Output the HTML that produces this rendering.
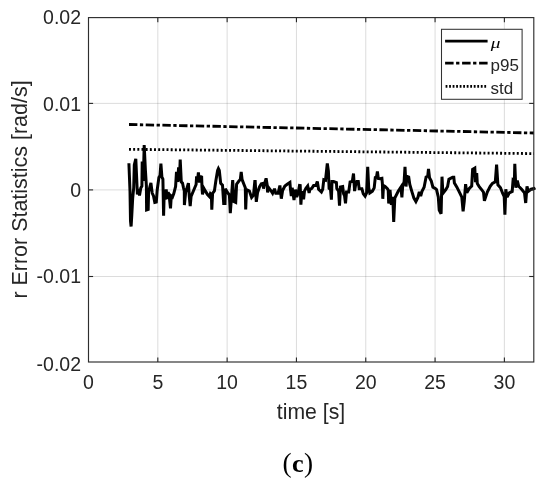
<!DOCTYPE html>
<html><head><meta charset="utf-8"><title>r Error Statistics</title>
<style>
html,body{margin:0;padding:0;background:#fff;}
body{width:550px;height:485px;overflow:hidden;}
svg{display:block;}
text{font-family:"Liberation Sans",Arial,sans-serif;fill:#262626;}
.tick{font-size:19.5px;}
.lab{font-size:21.2px;}
.leg{font-size:17px;}
.ser{font-family:"Liberation Serif","Times New Roman",serif;fill:#000;}
</style></head><body>
<svg width="550" height="485" viewBox="0 0 550 485">
<rect x="0" y="0" width="550" height="485" fill="#ffffff"/>

<line x1="157.81" y1="17.6" x2="157.81" y2="362.0" stroke="#262626" stroke-opacity="0.16" stroke-width="1"/>
<line x1="227.13" y1="17.6" x2="227.13" y2="362.0" stroke="#262626" stroke-opacity="0.16" stroke-width="1"/>
<line x1="296.44" y1="17.6" x2="296.44" y2="362.0" stroke="#262626" stroke-opacity="0.16" stroke-width="1"/>
<line x1="365.76" y1="17.6" x2="365.76" y2="362.0" stroke="#262626" stroke-opacity="0.16" stroke-width="1"/>
<line x1="435.07" y1="17.6" x2="435.07" y2="362.0" stroke="#262626" stroke-opacity="0.16" stroke-width="1"/>
<line x1="504.39" y1="17.6" x2="504.39" y2="362.0" stroke="#262626" stroke-opacity="0.16" stroke-width="1"/>
<line x1="88.5" y1="103.40" x2="533.8" y2="103.40" stroke="#262626" stroke-opacity="0.16" stroke-width="1"/>
<line x1="88.5" y1="189.90" x2="533.8" y2="189.90" stroke="#262626" stroke-opacity="0.16" stroke-width="1"/>
<line x1="88.5" y1="276.50" x2="533.8" y2="276.50" stroke="#262626" stroke-opacity="0.16" stroke-width="1"/>
<line x1="129" y1="124.5" x2="533.9" y2="133" stroke="#000" stroke-width="2.8" stroke-dasharray="8.4 2.5 3.3 2.5"/>
<line x1="129" y1="149.3" x2="533.9" y2="153.6" stroke="#000" stroke-width="2.8" stroke-dasharray="1.95 2.22"/>
<polyline points="128.9,163.3 130.0,191.0 130.5,221.0 131.1,226.5 131.8,215.0 132.7,198.0 133.7,188.0 134.3,165.0 135.8,158.9 137.4,194.5 138.5,189.0 139.5,195.5 140.8,188.0 141.9,186.0 142.2,161.4 143.3,181.0 144.2,145.0 145.4,170.0 146.4,186.0 146.6,210.0 148.2,209.5 148.6,192.0 150.9,182.9 152.2,193.0 153.5,196.0 154.8,202.4 156.3,202.0 157.2,190.0 158.9,177.5 160.0,175.5 160.9,163.6 161.9,177.0 162.9,179.0 163.6,215.8 164.3,190.0 165.2,199.5 166.2,189.5 167.2,199.0 168.2,192.0 169.3,197.0 170.5,208.3 171.3,196.0 172.5,197.0 173.8,193.6 175.6,186.4 176.5,171.8 177.6,182.0 178.6,167.3 179.4,181.5 180.2,159.5 181.3,182.0 182.5,183.0 183.4,187.3 184.3,190.9 184.4,205.1 185.6,192.7 188.4,183.2 189.3,196.4 190.2,206.0 191.1,196.4 193.8,190.0 196.1,184.5 196.6,176.4 197.4,182.0 198.4,172.3 199.4,182.5 200.3,175.5 201.0,182.0 201.6,175.9 202.0,187.3 202.5,194.5 203.8,188.2 205.6,191.4 207.5,194.5 209.3,196.4 210.3,193.7 211.4,195.1 211.8,209.6 212.6,193.3 214.4,191.0 215.9,180.5 217.6,170.5 218.4,168.6 219.3,170.5 220.7,183.3 222.5,185.1 223.7,203.5 225.0,203.5 225.3,188.7 227.5,192.4 229.4,195.1 230.3,213.2 232.7,180.1 233.9,201.5 235.7,202.4 236.6,184.2 238.9,181.0 240.3,179.6 241.2,171.9 242.1,179.6 243.9,184.2 245.3,187.8 245.7,209.5 246.5,189.6 249.4,191.0 251.6,197.4 253.5,195.1 254.8,181.5 255.2,181.5 256.3,201.9 257.6,192.4 259.5,186.9 261.3,183.7 263.1,183.3 263.5,188.7 264.5,184.2 266.1,178.3 267.2,185.1 267.6,192.4 268.5,187.4 270.8,190.5 272.6,193.3 274.5,188.7 275.8,193.3 278.1,193.3 279.9,185.5 281.3,198.7 282.6,190.5 284.9,186.0 287.2,184.2 289.9,182.4 290.4,188.7 291.3,196.0 292.2,187.8 294.0,200.1 295.4,189.6 296.7,196.9 298.1,193.3 299.5,185.5 300.2,185.6 300.9,204.7 301.8,191.1 303.6,199.3 304.5,191.1 305.9,188.4 307.7,186.1 309.1,192.9 310.0,189.3 311.8,188.4 313.6,185.6 315.9,185.6 317.3,181.5 318.6,189.3 321.4,192.0 322.7,189.3 323.8,179.7 325.5,180.2 326.4,172.0 327.3,163.4 328.4,171.1 329.1,188.4 330.5,189.3 331.4,199.7 332.0,181.5 333.6,181.5 336.4,182.5 336.8,188.4 338.6,191.1 339.5,205.6 340.5,187.0 342.7,186.5 343.6,193.8 344.5,195.6 345.5,203.4 346.5,192.0 348.7,192.0 350.1,182.0 352.3,181.5 353.5,173.6 354.6,191.1 355.5,185.6 356.9,181.5 358.3,181.5 359.2,188.8 361.9,188.8 363.3,193.8 365.1,196.1 366.6,192.9 367.7,166.8 368.7,187.5 369.8,192.9 372.4,191.1 374.2,187.9 375.3,177.5 376.5,177.0 377.4,171.5 378.3,178.4 380.1,178.8 381.9,178.4 382.4,183.8 382.8,198.8 383.5,185.6 385.1,186.5 387.4,188.8 388.2,190.0 388.7,203.5 390.0,189.9 391.4,204.9 392.8,196.7 393.7,221.9 394.8,198.1 398.2,191.3 400.9,187.2 401.9,197.4 402.7,185.9 404.1,181.8 405.0,166.8 406.0,186.5 407.0,176.3 408.7,177.0 409.8,184.5 411.8,191.3 413.9,198.1 415.9,201.5 417.9,197.4 419.3,192.0 420.7,196.1 422.0,191.3 424.1,187.2 426.1,177.0 427.7,176.3 428.5,168.8 429.5,177.7 431.3,181.1 432.9,187.2 435.6,188.6 436.5,189.5 438.3,197.1 439.2,210.1 441.1,213.8 442.0,176.7 442.9,193.4 445.8,189.7 447.6,186.6 448.9,179.2 452.6,177.3 453.8,177.3 454.4,182.9 456.9,187.2 460.0,193.4 461.8,197.1 463.1,211.4 464.3,200.8 465.6,184.1 466.8,192.8 469.3,188.5 471.7,186.0 472.6,169.3 474.8,168.0 475.5,182.3 476.7,173.0 477.3,183.5 479.2,186.6 481.6,189.7 483.5,192.2 484.4,200.8 487.3,192.1 490.2,186.3 492.4,183.4 495.3,181.9 496.6,164.5 497.9,184.8 500.5,187.7 502.7,193.5 504.2,196.5 504.9,214.6 505.8,189.2 507.1,197.2 509.3,192.8 512.2,191.4 513.1,179.7 514.4,180.5 514.8,163.7 515.8,187.7 517.3,180.5 518.7,186.3 521.6,189.2 524.5,192.8 525.7,203.0 527.0,186.3 528.2,191.4 531.1,189.2 534.0,188.5 534.7,189.9" fill="none" stroke="#000" stroke-width="3.0" stroke-linejoin="miter" stroke-miterlimit="3"/>
<rect x="88.5" y="17.6" width="445.3" height="344.4" fill="none" stroke="#2e2e2e" stroke-width="1.15"/>
<line x1="157.81" y1="362.0" x2="157.81" y2="357.4" stroke="#262626" stroke-width="1.1"/>
<line x1="157.81" y1="17.6" x2="157.81" y2="22.200000000000003" stroke="#262626" stroke-width="1.1"/>
<line x1="227.13" y1="362.0" x2="227.13" y2="357.4" stroke="#262626" stroke-width="1.1"/>
<line x1="227.13" y1="17.6" x2="227.13" y2="22.200000000000003" stroke="#262626" stroke-width="1.1"/>
<line x1="296.44" y1="362.0" x2="296.44" y2="357.4" stroke="#262626" stroke-width="1.1"/>
<line x1="296.44" y1="17.6" x2="296.44" y2="22.200000000000003" stroke="#262626" stroke-width="1.1"/>
<line x1="365.76" y1="362.0" x2="365.76" y2="357.4" stroke="#262626" stroke-width="1.1"/>
<line x1="365.76" y1="17.6" x2="365.76" y2="22.200000000000003" stroke="#262626" stroke-width="1.1"/>
<line x1="435.07" y1="362.0" x2="435.07" y2="357.4" stroke="#262626" stroke-width="1.1"/>
<line x1="435.07" y1="17.6" x2="435.07" y2="22.200000000000003" stroke="#262626" stroke-width="1.1"/>
<line x1="504.39" y1="362.0" x2="504.39" y2="357.4" stroke="#262626" stroke-width="1.1"/>
<line x1="504.39" y1="17.6" x2="504.39" y2="22.200000000000003" stroke="#262626" stroke-width="1.1"/>
<line x1="88.5" y1="103.40" x2="93.1" y2="103.40" stroke="#262626" stroke-width="1.1"/>
<line x1="533.8" y1="103.40" x2="529.1999999999999" y2="103.40" stroke="#262626" stroke-width="1.1"/>
<line x1="88.5" y1="189.90" x2="93.1" y2="189.90" stroke="#262626" stroke-width="1.1"/>
<line x1="533.8" y1="189.90" x2="529.1999999999999" y2="189.90" stroke="#262626" stroke-width="1.1"/>
<line x1="88.5" y1="276.50" x2="93.1" y2="276.50" stroke="#262626" stroke-width="1.1"/>
<line x1="533.8" y1="276.50" x2="529.1999999999999" y2="276.50" stroke="#262626" stroke-width="1.1"/>
<text class="tick" x="88.50" y="389" text-anchor="middle">0</text>
<text class="tick" x="157.81" y="389" text-anchor="middle">5</text>
<text class="tick" x="227.13" y="389" text-anchor="middle">10</text>
<text class="tick" x="296.44" y="389" text-anchor="middle">15</text>
<text class="tick" x="365.76" y="389" text-anchor="middle">20</text>
<text class="tick" x="435.07" y="389" text-anchor="middle">25</text>
<text class="tick" x="504.39" y="389" text-anchor="middle">30</text>
<text class="tick" x="81" y="24.10" text-anchor="end">0.02</text>
<text class="tick" x="81" y="110.60" text-anchor="end">0.01</text>
<text class="tick" x="81" y="196.90" text-anchor="end">0</text>
<text class="tick" x="81" y="283.40" text-anchor="end">-0.01</text>
<text class="tick" x="81" y="370.90" text-anchor="end">-0.02</text>
<text class="lab" x="311" y="418.8" text-anchor="middle">time [s]</text>
<text class="lab" transform="translate(27.1,298.6) rotate(-90)" textLength="218.2" lengthAdjust="spacingAndGlyphs">r Error Statistics [rad/s]</text>
<rect x="441.5" y="29.3" width="80.6" height="70" fill="#fff" stroke="#333333" stroke-width="1.05"/>
<line x1="445.1" y1="41.1" x2="487.6" y2="41.1" stroke="#000" stroke-width="2.8"/>
<line x1="445.1" y1="63.1" x2="487.6" y2="63.1" stroke="#000" stroke-width="2.8" stroke-dasharray="8.5 2.5 3.3 2.7"/>
<line x1="445.6" y1="86.3" x2="487.6" y2="86.3" stroke="#000" stroke-width="2.8" stroke-dasharray="1.8 1.72"/>
<text class="leg ser" transform="translate(490.8,47.8) scale(1.3,1)" font-style="italic" style="font-size:14.8px">μ</text>
<text class="leg" x="490.5" y="71.2">p95</text>
<text class="leg" x="490.5" y="93.5">std</text>
<text class="ser" x="282.6" y="471.6" style="font-size:27.3px">(<tspan style="font-size:26.2px;font-weight:bold" dx="0.2" dy="-0.1">c</tspan><tspan dx="0.4" dy="0.1">)</tspan></text>
</svg></body></html>
